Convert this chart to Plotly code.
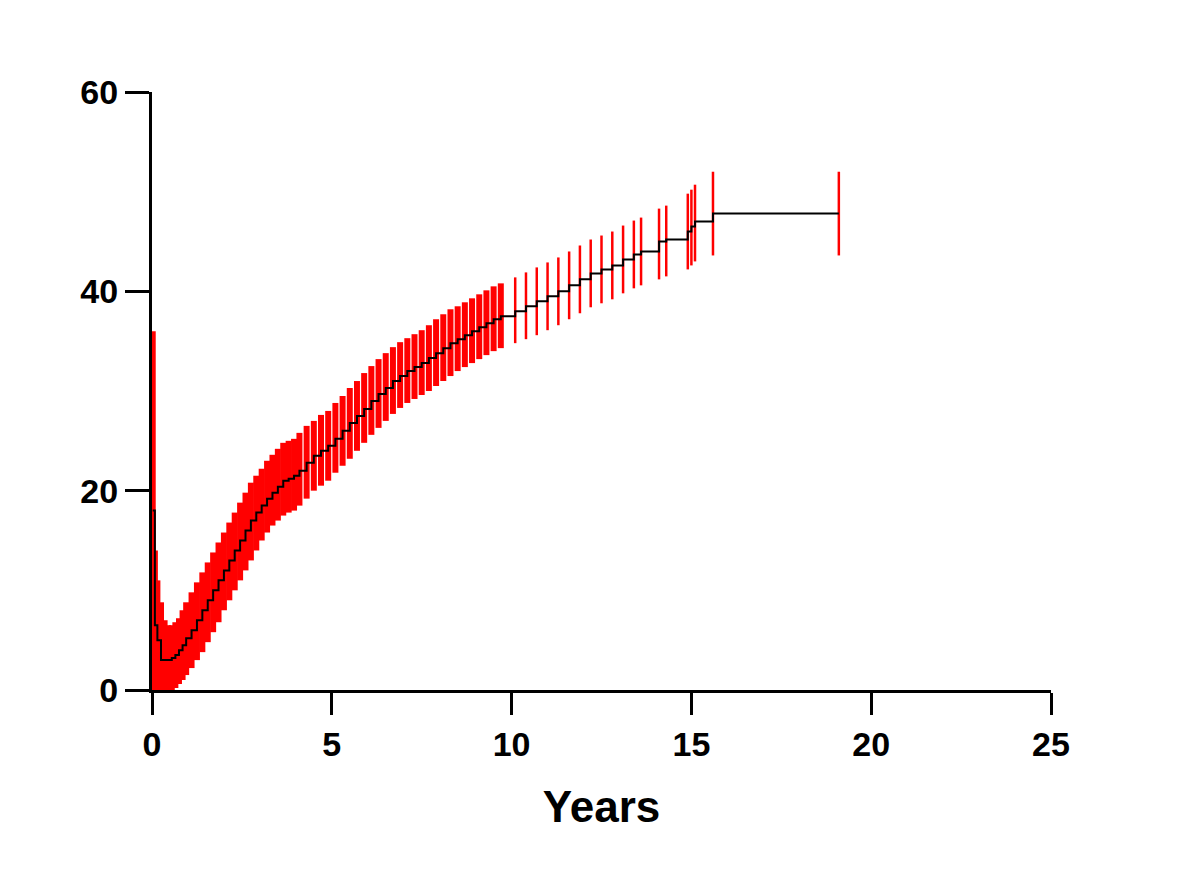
import plotly.graph_objects as go

# cumulative incidence (%) with confidence limits
years = [0.02, 0.08, 0.15, 0.25, 0.35, 0.45, 0.55, 0.65, 0.75, 0.85,
         0.95, 1.1, 1.25, 1.4, 1.55, 1.7, 1.85, 2.0, 2.15, 2.3,
         2.45, 2.6, 2.75, 2.9, 3.05, 3.2, 3.35, 3.5, 3.65, 3.8,
         3.95, 4.1, 4.3, 4.5, 4.7, 4.9, 5.1, 5.3, 5.5, 5.7,
         5.9, 6.1, 6.3, 6.5, 6.7, 6.9, 7.1, 7.3, 7.5, 7.7,
         7.9, 8.1, 8.3, 8.5, 8.7, 8.9, 9.1, 9.3, 9.5, 9.7,
         10.1, 10.4, 10.7, 11.0, 11.3, 11.6, 11.9, 12.2, 12.5, 12.8,
         13.1, 13.4, 13.6, 14.1, 14.3, 14.9, 15.0, 15.1, 15.6, 19.1]
estimate = [18, 6.5, 5, 3, 3, 3, 3.2, 3.5, 4, 4.5,
            5.2, 6, 7, 8, 9, 10, 11, 12, 13, 14,
            15, 16, 17, 17.8, 18.5, 19.2, 19.8, 20.4, 21, 21.2,
            21.5, 22, 22.8, 23.5, 24, 24.5, 25.2, 26, 26.8, 27.5,
            28.2, 29, 29.7, 30.3, 31, 31.5, 32, 32.4, 32.8, 33.3,
            33.8, 34.3, 34.8, 35.2, 35.6, 36, 36.4, 36.8, 37.2, 37.5,
            38, 38.5, 39, 39.5, 40, 40.6, 41.2, 41.8, 42.2, 42.6,
            43.2, 43.7, 44, 45, 45.2, 46, 46.5, 47, 47.8, 47.8]
lower = [0.5, 0, 0, 0, 0, 0, 0, 0.2, 0.6, 1,
         1.5, 2.2, 3, 3.8, 4.8, 5.8, 6.8, 8, 9, 10,
         11, 12, 13, 14, 15, 15.8, 16.5, 17, 17.5, 17.8,
         18, 18.5, 19.2, 20, 20.5, 21, 21.8, 22.5, 23.2, 24,
         24.8, 25.6, 26.3, 27, 27.7, 28.3, 28.8, 29.2, 29.6, 30,
         30.5, 31, 31.5, 32, 32.4, 32.8, 33.2, 33.6, 34, 34.3,
         34.8, 35.2, 35.6, 36.1, 36.6, 37.2, 37.8, 38.4, 38.8, 39.2,
         39.8, 40.3, 40.6, 41.2, 41.5, 42.2, 42.6, 43, 43.6, 43.6]
upper = [36, 14, 11, 8.8, 7, 6.5, 6.5, 6.8, 7.2, 8,
         8.8, 9.8, 10.8, 11.8, 12.8, 13.8, 14.8, 15.8, 16.8, 17.8,
         18.8, 19.8, 20.8, 21.5, 22.2, 23, 23.6, 24.2, 24.8, 25,
         25.2, 25.8, 26.5, 27, 27.6, 28, 28.8, 29.5, 30.3, 31,
         31.8, 32.5, 33.2, 33.8, 34.4, 34.9, 35.3, 35.7, 36.1, 36.6,
         37.2, 37.7, 38.2, 38.5, 38.9, 39.3, 39.7, 40.1, 40.5, 40.8,
         41.4, 41.9, 42.4, 42.9, 43.4, 44, 44.6, 45.2, 45.6, 46,
         46.6, 47.1, 47.4, 48.3, 48.6, 49.8, 50.2, 50.7, 52, 52]

err_plus = [u - e for u, e in zip(upper, estimate)]
err_minus = [e - l for e, l in zip(estimate, lower)]

fig = go.Figure()
# dense bars in the first ten years look like a solid band in the reference
fig.add_trace(go.Scatter(
    x=years[:60], y=estimate[:60], mode="markers",
    marker=dict(size=1, color="rgba(0,0,0,0)"),
    error_y=dict(type="data", array=err_plus[:60], arrayminus=err_minus[:60],
                 color="red", thickness=6, width=0),
    showlegend=False))
fig.add_trace(go.Scatter(
    x=years[60:], y=estimate[60:], mode="markers",
    marker=dict(size=1, color="rgba(0,0,0,0)"),
    error_y=dict(type="data", array=err_plus[60:], arrayminus=err_minus[60:],
                 color="red", thickness=2.5, width=0),
    showlegend=False))
fig.add_trace(go.Scatter(
    x=years, y=estimate, mode="lines",
    line=dict(color="black", width=2, shape="hv"), showlegend=False))

axis_font = dict(family="Liberation Sans", size=34, color="black", weight="bold")
fig.update_layout(
    width=1185, height=885, plot_bgcolor="white", paper_bgcolor="white",
    margin=dict(l=144, r=142, t=84, b=203),
    font=dict(family="Liberation Sans", color="black"),
    xaxis=dict(range=[0, 25], tickvals=[0, 5, 10, 15, 20, 25], automargin=False,
               showline=True, linecolor="black", linewidth=3,
               ticks="outside", ticklen=22, tickwidth=3, tickcolor="black",
               showgrid=False, zeroline=False, tickfont=axis_font,
               title=dict(text="Years", font=dict(family="Liberation Sans", size=44, weight="bold"),
                          standoff=30)),
    yaxis=dict(range=[0, 60], tickvals=[0, 20, 40, 60], automargin=False,
               showline=True, linecolor="black", linewidth=3,
               ticks="outside", ticklen=24, tickwidth=3, tickcolor="black",
               showgrid=False, zeroline=False, tickfont=axis_font),
)

fig.write_html("out.html")
